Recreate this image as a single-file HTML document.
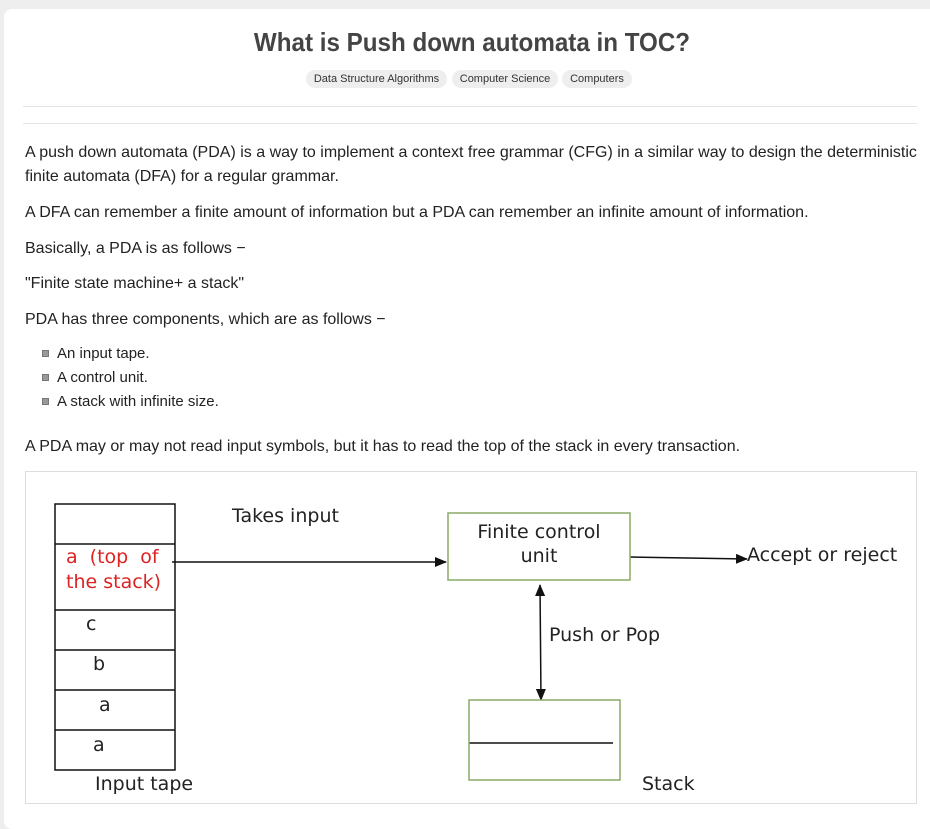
<!DOCTYPE html>
<html><head><meta charset="utf-8"><style>
*{margin:0;padding:0;box-sizing:border-box}
body{width:930px;height:817px;background:#eeeeee;position:relative;overflow:hidden;font-family:"Liberation Sans",Arial,sans-serif;color:#222}
.card{position:absolute;left:4px;top:9px;width:940px;height:820px;background:#fff;border-radius:8px}
.t{position:absolute;white-space:nowrap}
.p{position:absolute;left:25px;font-size:16px;line-height:24px;white-space:nowrap;color:#222}
.pill{position:absolute;top:70px;height:18px;background:#eee;border-radius:9px;font-size:11px;line-height:18px;text-align:center;color:#333}
.hr{position:absolute;left:23px;width:894px;height:1px;background:#e4e4e4}
.li{position:absolute;left:57px;font-size:15px;line-height:20px;white-space:nowrap}
.bul{position:absolute;left:42px;width:7px;height:7px;background:#999;border:1px solid #777}
</style></head><body>
<div class="card"></div>
<div class="t" style="left:7px;width:930px;text-align:center;top:27px;font-size:26px;font-weight:bold;color:#444;transform:scaleX(0.93);transform-origin:465px 0">What is Push down automata in TOC?</div>
<div class="pill" style="left:306px;width:141px">Data Structure Algorithms</div>
<div class="pill" style="left:452px;width:106px">Computer Science</div>
<div class="pill" style="left:562px;width:70px">Computers</div>
<div class="hr" style="top:106px"></div>
<div class="hr" style="top:123px"></div>
<div class="p" style="top:141px">A push down automata (PDA) is a way to implement a context free grammar (CFG) in a similar way to design the deterministic</div>
<div class="p" style="top:165px">finite automata (DFA) for a regular grammar.</div>
<div class="p" style="top:201px">A DFA can remember a finite amount of information but a PDA can remember an infinite amount of information.</div>
<div class="p" style="top:237px">Basically, a PDA is as follows −</div>
<div class="p" style="top:272px">"Finite state machine+ a stack"</div>
<div class="p" style="top:308px">PDA has three components, which are as follows −</div>
<div class="bul" style="top:350px"></div><div class="li" style="top:344px">An input tape.</div>
<div class="bul" style="top:374px"></div><div class="li" style="top:368px">A control unit.</div>
<div class="bul" style="top:398px"></div><div class="li" style="top:392px">A stack with infinite size.</div>
<div class="p" style="top:435px">A PDA may or may not read input symbols, but it has to read the top of the stack in every transaction.</div>
<div style="position:absolute;left:25px;top:471px;width:892px;height:333px;border:1px solid #ddd"></div>
<svg style="position:absolute;left:0;top:0" width="930" height="817">
<defs><marker id="a" markerWidth="12" markerHeight="10" refX="11" refY="5" orient="auto" markerUnits="userSpaceOnUse"><path d="M0,0L12,5L0,10z" fill="#111"/></marker>
<marker id="b" markerWidth="12" markerHeight="10" refX="11" refY="5" orient="auto-start-reverse" markerUnits="userSpaceOnUse"><path d="M0,0L12,5L0,10z" fill="#111"/></marker></defs>
<g fill="none" stroke="#111" stroke-width="1.5">
<rect x="55" y="504" width="120" height="266"/>
<line x1="55" y1="544" x2="175" y2="544"/><line x1="55" y1="610" x2="175" y2="610"/>
<line x1="55" y1="650" x2="175" y2="650"/><line x1="55" y1="690" x2="175" y2="690"/>
<line x1="55" y1="730" x2="175" y2="730"/>
<line x1="172" y1="562" x2="446" y2="562" marker-end="url(#a)"/>
<line x1="630" y1="557" x2="747" y2="559" marker-end="url(#a)"/>
<line x1="540" y1="585" x2="541" y2="700" marker-start="url(#b)" marker-end="url(#a)"/>
<line x1="469" y1="743" x2="613" y2="743"/>
</g>
<g fill="none" stroke="#88aa66" stroke-width="1.5">
<rect x="448" y="513" width="182" height="67"/>
<rect x="469" y="700" width="151" height="80"/>
</g>
<g font-family="DejaVu Sans, sans-serif" font-size="19" fill="#222">
<text x="232" y="522">Takes input</text>
<text x="66" y="563" fill="#d22" word-spacing="6">a (top of</text>
<text x="66" y="588" fill="#d22">the stack)</text>
<text x="86" y="630">c</text><text x="93" y="670">b</text><text x="99" y="711">a</text><text x="93" y="751">a</text>
<text x="95" y="790">Input tape</text>
<text x="539" y="538" text-anchor="middle">Finite control</text>
<text x="539" y="562" text-anchor="middle">unit</text>
<text x="747" y="561">Accept or reject</text>
<text x="549" y="641">Push or Pop</text>
<text x="642" y="790">Stack</text>
</g>
</svg>
</body></html>
